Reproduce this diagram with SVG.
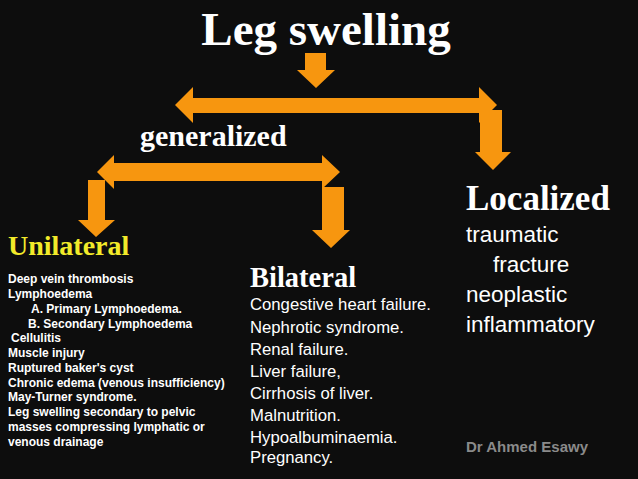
<svg xmlns="http://www.w3.org/2000/svg" width="638" height="479" viewBox="0 0 638 479">
<style>
.s{font-family:"Liberation Serif",serif;font-weight:bold;fill:#fff}
.a{fill:#f7960f}
.u{font-family:"Liberation Sans",Arial,sans-serif;font-weight:bold;font-size:12px;fill:#fff}
.b{font-family:"Liberation Sans",Arial,sans-serif;font-size:16.7px;fill:#fff}
.l{font-family:"Liberation Sans",Arial,sans-serif;font-size:22.5px;fill:#fff}
</style>
<rect width="638" height="479" fill="#0d0d0d"/>
<g id="connectors">
<path class="a" d="M305,53H326V70H335L316,88L297,70H305Z"/>
<path class="a" d="M175,105L193,87V98H479V87L497,105L479,123V113H193V123Z"/>
<path class="a" d="M480,110H502V152H511L493,170L475,152H480Z"/>
<path class="a" d="M97,172L114,155V163H322V155L340,172L322,189V181H114V189Z"/>
<path class="a" d="M88,180H105V220H115L96,237L78,220H88Z"/>
<path class="a" d="M322,187H344V230H350L331,248L312,230H322Z"/>
</g>
<g id="title"><text class="s" x="326" y="45" font-size="47" text-anchor="middle">Leg swelling</text></g>
<g id="generalized"><text class="s" x="140" y="146" font-size="30">generalized</text></g>
<g id="localized">
<text class="s" x="466" y="210" font-size="35">Localized</text>
<text class="l" x="466" y="242">traumatic</text>
<text class="l" x="493" y="272">fracture</text>
<text class="l" x="466" y="302">neoplastic</text>
<text class="l" x="466" y="332">inflammatory</text>
</g>
<g id="unilateral">
<text class="s" x="8" y="255" font-size="28" style="fill:#f2ea2a">Unilateral</text>
<text class="u" x="8" y="283">Deep vein thrombosis</text>
<text class="u" x="8" y="298">Lymphoedema</text>
<text class="u" x="31" y="313">A. Primary Lymphoedema.</text>
<text class="u" x="28" y="328">B. Secondary Lymphoedema</text>
<text class="u" x="11" y="342">Cellulitis</text>
<text class="u" x="8" y="357">Muscle injury</text>
<text class="u" x="8" y="372">Ruptured baker's cyst</text>
<text class="u" x="8" y="387">Chronic edema (venous insufficiency)</text>
<text class="u" x="8" y="401">May-Turner syndrome.</text>
<text class="u" x="8" y="416">Leg swelling secondary to pelvic</text>
<text class="u" x="8" y="431">masses compressing lymphatic or</text>
<text class="u" x="8" y="446">venous drainage</text>
</g>
<g id="bilateral">
<text class="s" x="250" y="287" font-size="28.5">Bilateral</text>
<text class="b" x="250" y="310">Congestive heart failure.</text>
<text class="b" x="250" y="333">Nephrotic syndrome.</text>
<text class="b" x="250" y="355">Renal failure.</text>
<text class="b" x="250" y="377">Liver failure,</text>
<text class="b" x="250" y="399">Cirrhosis of liver.</text>
<text class="b" x="250" y="421">Malnutrition.</text>
<text class="b" x="250" y="443">Hypoalbuminaemia.</text>
<text class="b" x="250" y="463">Pregnancy.</text>
</g>
<g id="credit"><text x="466" y="452" font-family="Liberation Sans,Arial,sans-serif" font-size="15" font-weight="bold" fill="#8a8a8a">Dr Ahmed  Esawy</text></g>
</svg>
